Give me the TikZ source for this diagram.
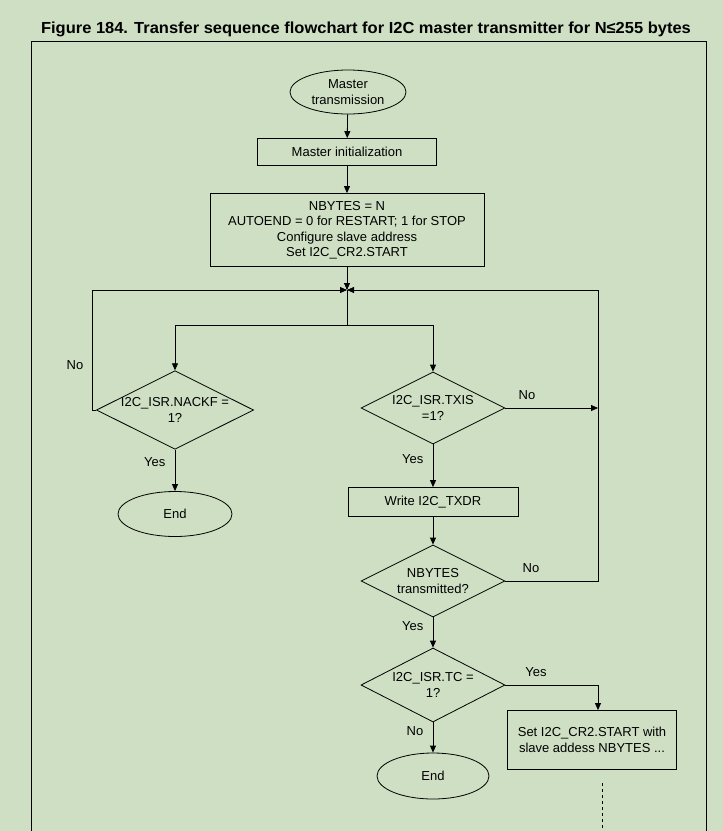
\documentclass[tikz,border=0pt]{standalone}
\usepackage{fontspec}
\setmainfont{Liberation Sans}
\usetikzlibrary{shapes.geometric,arrows.meta,positioning}
\definecolor{panel}{HTML}{CFDFC4}
\begin{document}
\begin{tikzpicture}[
    x=1pt, y=-1pt,
    font=\fontsize{13}{15.5}\selectfont,
    term/.style={ellipse, draw, thick, minimum width=114pt, minimum height=45pt, inner sep=0pt, align=center},
    action/.style={rectangle, draw, thick, align=center, inner sep=2pt},
    test/.style={diamond, draw, thick, aspect=2, minimum width=144pt, minimum height=72pt, inner sep=0pt, align=center},
    flow/.style={-{Triangle[length=7pt,width=6pt]}, thick},
    line/.style={thick}
]
    % Background and frame
    \fill[panel] (0,0) rectangle (723,831);
    \useasboundingbox (0,0) rectangle (723,831);
    \node[font=\bfseries\fontsize{16}{18}\selectfont, xscale=1.03] (title) at (366,29) {Figure 184. Transfer sequence flowchart for I2C master transmitter for N≤255 bytes};
    \draw[line] (31,831) -- (31,41) -- (706,41) -- (706,831);

    % Main column
    \node[term, minimum width=116pt, minimum height=44pt] (start) at (348,92) {Master\\transmission};
    \node[action, minimum width=179pt, minimum height=27pt] (init) at (347,152) {Master initialization};
    \node[action, minimum width=274pt, minimum height=73pt] (setup) at (347,230) {NBYTES = N\\AUTOEND = 0 for RESTART; 1 for STOP\\Configure slave address\\Set I2C\_CR2.START};
    \coordinate (join) at (347,290);
    \coordinate (split) at (347,325);

    % Left branch
    \node[test] (nackf) at (175,410) {I2C\_ISR.NACKF =\\1?};
    \node[term] (endA) at (175,514) {End};

    % Right branch
    \node[test] (txis) at (433,408) {I2C\_ISR.TXIS\\=1?};
    \node[action, minimum width=170pt, minimum height=29pt] (write) at (433,502) {Write I2C\_TXDR};
    \node[test] (sent) at (433,581) {NBYTES\\transmitted?};
    \node[test, minimum height=74pt] (tc) at (433,685) {I2C\_ISR.TC =\\1?};
    \node[term, minimum width=112pt, minimum height=46pt] (endB) at (433,776) {End};
    \node[action, minimum width=169pt, minimum height=59pt] (restart) at (592,740) {Set I2C\_CR2.START with\\slave addess NBYTES ...};

    % Loop coordinates
    \coordinate (backL) at (92,290);
    \coordinate (backR) at (598,290);
    \coordinate (railR) at (598,408);

    % Connections
    \draw[flow] (start) -- (init);
    \draw[flow] (init) -- (setup);
    \draw[flow] (setup) -- (join);
    \draw[line] (join) -- (split);
    \draw[flow] (split) -| (nackf.north);
    \draw[flow] (split) -| (txis.north);
    \draw[flow] (nackf.west) -| (backL) -- (join);
    \draw[flow] (nackf) -- node[pos=0.3, left=6pt] {Yes} (endA);
    \draw[flow] (txis.east) -- (railR);
    \draw[flow] (sent.east) -| (backR) -- (join);
    \draw[flow] (txis) -- node[pos=0.35, left=6pt] {Yes} (write);
    \draw[flow] (write) -- (sent);
    \draw[flow] (sent) -- node[pos=0.3, left=6pt] {Yes} (tc);
    \draw[flow] (tc.east) -| (restart.north -| backR);
    \draw[flow] (tc) -- node[pos=0.3, left=6pt] {No} (endB);
    \draw[thick, dashed] (602,783) -- (602,831);

    % Branch labels
    \node (noA) at (75,365) {No};
    \node (noB) at (527,395) {No};
    \node (noC) at (531,568) {No};
    \node (yesD) at (536,672) {Yes};
\end{tikzpicture}
\end{document}
